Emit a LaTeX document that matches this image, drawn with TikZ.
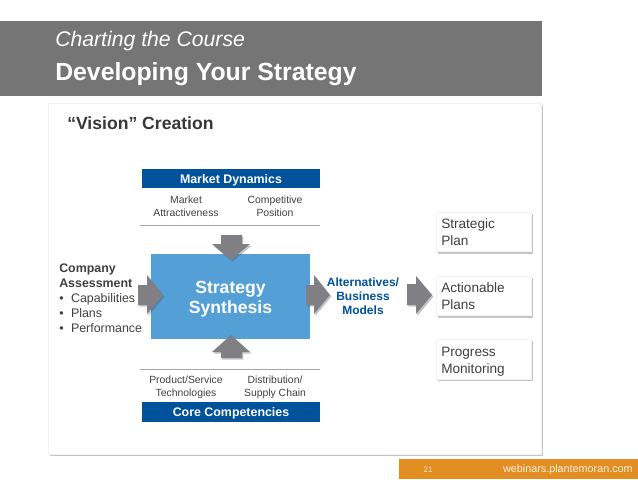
\documentclass[tikz,border=0pt]{standalone}
\usepackage{fontspec}
\setmainfont{Liberation Sans}
\usetikzlibrary{shadows}
\definecolor{hdr}{HTML}{757575}
\definecolor{navy}{HTML}{00529B}
\definecolor{sky}{HTML}{549FD6}
\definecolor{arrowgray}{HTML}{7F7F84}
\definecolor{ink}{HTML}{404040}
\definecolor{orangebar}{HTML}{E38E22}
\tikzset{
  softshadow/.style={drop shadow={shadow xshift=1.1pt,shadow yshift=-1.3pt,opacity=.32,fill=black!70}},
  panelbox/.style={fill=white,draw=black!5,line width=.6pt,softshadow,anchor=north west,inner sep=0pt},
  band/.style={fill=navy,inner sep=0pt,minimum width=133.5pt,minimum height=14.6pt,anchor=center},
  bandtext/.style={text=white,font=\fontsize{9.3}{11}\selectfont\bfseries,inner sep=0pt},
  small/.style={text=ink,font=\fontsize{7.8}{9.8}\selectfont,align=center,inner sep=0pt},
  blockarrow/.style={fill=arrowgray,softshadow},
  outcome/.style={text=ink,font=\fontsize{10.2}{13}\selectfont,align=left,inner sep=0pt,anchor=west},
  sep/.style={draw=black!35,line width=.5pt}
}
\begin{document}
\begin{tikzpicture}[x=.75pt,y=-.75pt]
\useasboundingbox (0,0) rectangle (638,479);
\fill[white] (0,0) rectangle (638,479);
\fill[hdr] (0,21) rectangle (542,96);
\node[anchor=west,inner sep=0pt,text=white] (subtitle) at (55,41.5) {\fontsize{15.9}{18}\selectfont\itshape Charting the Course};
\node[anchor=west,inner sep=0pt,text=white] (title) at (55,74.5) {\fontsize{18.6}{22}\selectfont\bfseries Developing Your Strategy};
\node[panelbox,minimum width=369.5pt,minimum height=263pt] (panel) at (48,103) {};
\node[anchor=west,inner sep=0pt,text=black!78] (vision) at (67,123.5) {\fontsize{13.2}{16}\selectfont\bfseries “Vision” Creation};
\node[band] (market) at (231,178.5) {};
\node[bandtext] (markettext) at (231,180) {Market Dynamics};
\node[small] (attr) at (186,206.5) {Market\\Attractiveness};
\node[small] (comp) at (275,206.5) {Competitive\\Position};
\coordinate (tl) at (140,225);
\coordinate (tr) at (320,225);
\draw[sep] (tl) -- (tr);
\coordinate (bl) at (140,369);
\coordinate (br) at (320,369);
\draw[sep] (bl) -- (br);
\node[fill=sky,minimum width=119.5pt,minimum height=64pt,inner sep=0pt] (synth) at (230.5,296.5) {};
\node[text=white,align=center,inner sep=0pt,font=\fontsize{13.2}{15.4}\selectfont\bfseries] (synthtext) at (230.5,299) {Strategy\\Synthesis};
% block arrows
\path[blockarrow] (221,235) -- (242,235) -- (242,244) -- (250,244) -- (231,260) -- (212,244) -- (221,244) -- cycle;
\path[blockarrow] (221,358) -- (242,358) -- (242,352) -- (250,352) -- (231,335) -- (212,352) -- (221,352) -- cycle;
\path[blockarrow] (138,285) -- (147,285) -- (147,275) -- (163,295) -- (147,314) -- (147,305) -- (138,305) -- cycle;
\path[blockarrow] (306,285) -- (314,285) -- (314,275) -- (330,295) -- (314,314) -- (314,305) -- (306,305) -- cycle;
\path[blockarrow] (407,284) -- (416,284) -- (416,276) -- (432,295) -- (416,314) -- (416,305) -- (407,305) -- cycle;
\node[small] (prod) at (186,387) {Product/Service\\Technologies};
\node[small] (dist) at (275,387) {Distribution/\\Supply Chain};
\node[band] (core) at (231,412) {};
\node[bandtext] (coretext) at (231,413) {Core Competencies};
\node[anchor=north west,inner sep=0pt,text=ink,align=left,font=\fontsize{9.3}{11.25}\selectfont] (company) at (59,264) {\textbf{Company}\\\textbf{Assessment}\\•\hspace{5.6pt}Capabilities\\•\hspace{5.6pt}Plans\\•\hspace{5.6pt}Performance};
\node[text=navy,align=center,inner sep=0pt,font=\fontsize{9}{10.6}\selectfont\bfseries] (alt) at (363,296.5) {Alternatives/\\Business\\Models};
\node[panelbox,minimum width=71pt,minimum height=29.6pt] (strategicbox) at (436,212) {};
\node[panelbox,minimum width=71pt,minimum height=29.6pt] (actionablebox) at (436,276) {};
\node[panelbox,minimum width=71pt,minimum height=30.2pt] (progressbox) at (436,339) {};
\node[outcome] (strategic) at (441,232) {Strategic\\Plan};
\node[outcome] (actionable) at (441,296) {Actionable\\Plans};
\node[outcome] (progress) at (441,361.5) {Progress\\Monitoring};
\fill[orangebar] (399,459) rectangle (638,479);
\node[anchor=center,inner sep=0pt,text=white!80!orangebar,font=\fontsize{5.9}{8}\selectfont] (page) at (428,469.5) {21};
\node[anchor=east,inner sep=0pt,text=white!88!orangebar,font=\fontsize{8.1}{10}\selectfont] (web) at (633,470) {webinars.plantemoran.com};
\end{tikzpicture}
\end{document}
